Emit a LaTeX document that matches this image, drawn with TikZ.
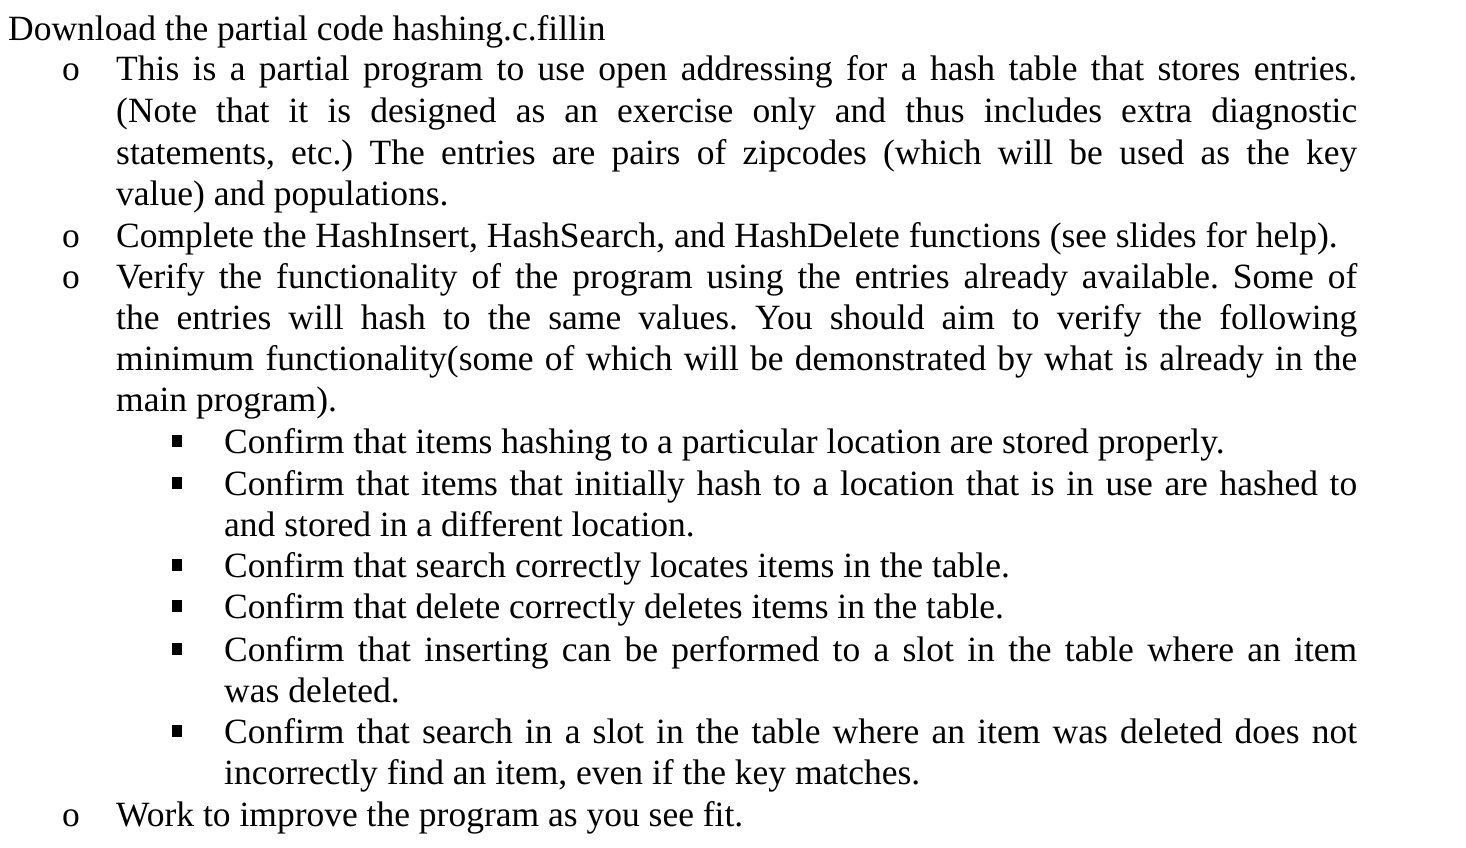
\documentclass[tikz,border=0pt]{standalone}
\usepackage{fontspec}
\setmainfont{Liberation Serif}
\frenchspacing
\begin{document}
\begin{tikzpicture}[x=1pt,y=1pt,every node/.style={inner sep=0pt,anchor=base west,font=\fontsize{35.5}{40}\selectfont\frenchspacing}]
\useasboundingbox (0,0) rectangle (1466,-848);
\newcommand\myJ[4]{\node (#1) at (#2,-#3) {\makebox[\dimexpr1357pt-#2pt\relax][s]{#4}};}
\newcommand\myL[4]{\node (#1) at (#2,-#3) {#4};}
\newcommand\myB[2]{\node (#1) at (62,-#2) {o};}
\newcommand\myQ[2]{\fill (172,-#2-6) rectangle ++(10,12);}
\myL{t}{8}{41}{Download the partial code hashing.c.fillin}
\myB{b1}{81}
\myJ{a1}{116}{81}{This is a partial program to use open addressing for a hash table that stores entries.}
\myJ{a2}{116}{122}{(Note that it is designed as an exercise only and thus includes extra diagnostic}
\myJ{a3}{116}{164}{statements, etc.) The entries are pairs of zipcodes (which will be used as the key}
\myL{a4}{116}{205}{value) and populations.}
\myB{b2}{247}
\myL{c1}{116}{247}{Complete the HashInsert, HashSearch, and HashDelete functions (see slides for help).}
\myB{b3}{288}
\myJ{d1}{116}{288}{Verify the functionality of the program using the entries already available. Some of}
\myJ{d2}{116}{329}{the entries will hash to the same values. You should aim to verify the following}
\myJ{d3}{116}{370}{minimum functionality(some of which will be demonstrated by what is already in the}
\myL{d4}{116}{411}{main program).}
\myQ{q1}{441}
\myL{e1}{224}{453}{Confirm that items hashing to a particular location are stored properly.}
\myQ{q2}{483}
\myJ{f1}{224}{495}{Confirm that items that initially hash to a location that is in use are hashed to}
\myL{f2}{224}{536}{and stored in a different location.}
\myQ{q3}{565}
\myL{g1}{224}{577}{Confirm that search correctly locates items in the table.}
\myQ{q4}{606}
\myL{h1}{224}{618}{Confirm that delete correctly deletes items in the table.}
\myQ{q5}{649}
\myJ{i1}{224}{661}{Confirm that inserting can be performed to a slot in the table where an item}
\myL{i2}{224}{702}{was deleted.}
\myQ{q6}{731}
\myJ{k1}{224}{743}{Confirm that search in a slot in the table where an item was deleted does not}
\myL{k2}{224}{784}{incorrectly find an item, even if the key matches.}
\myB{b4}{826}
\myL{m1}{116}{826}{Work to improve the program as you see fit.}
\end{tikzpicture}
\end{document}
